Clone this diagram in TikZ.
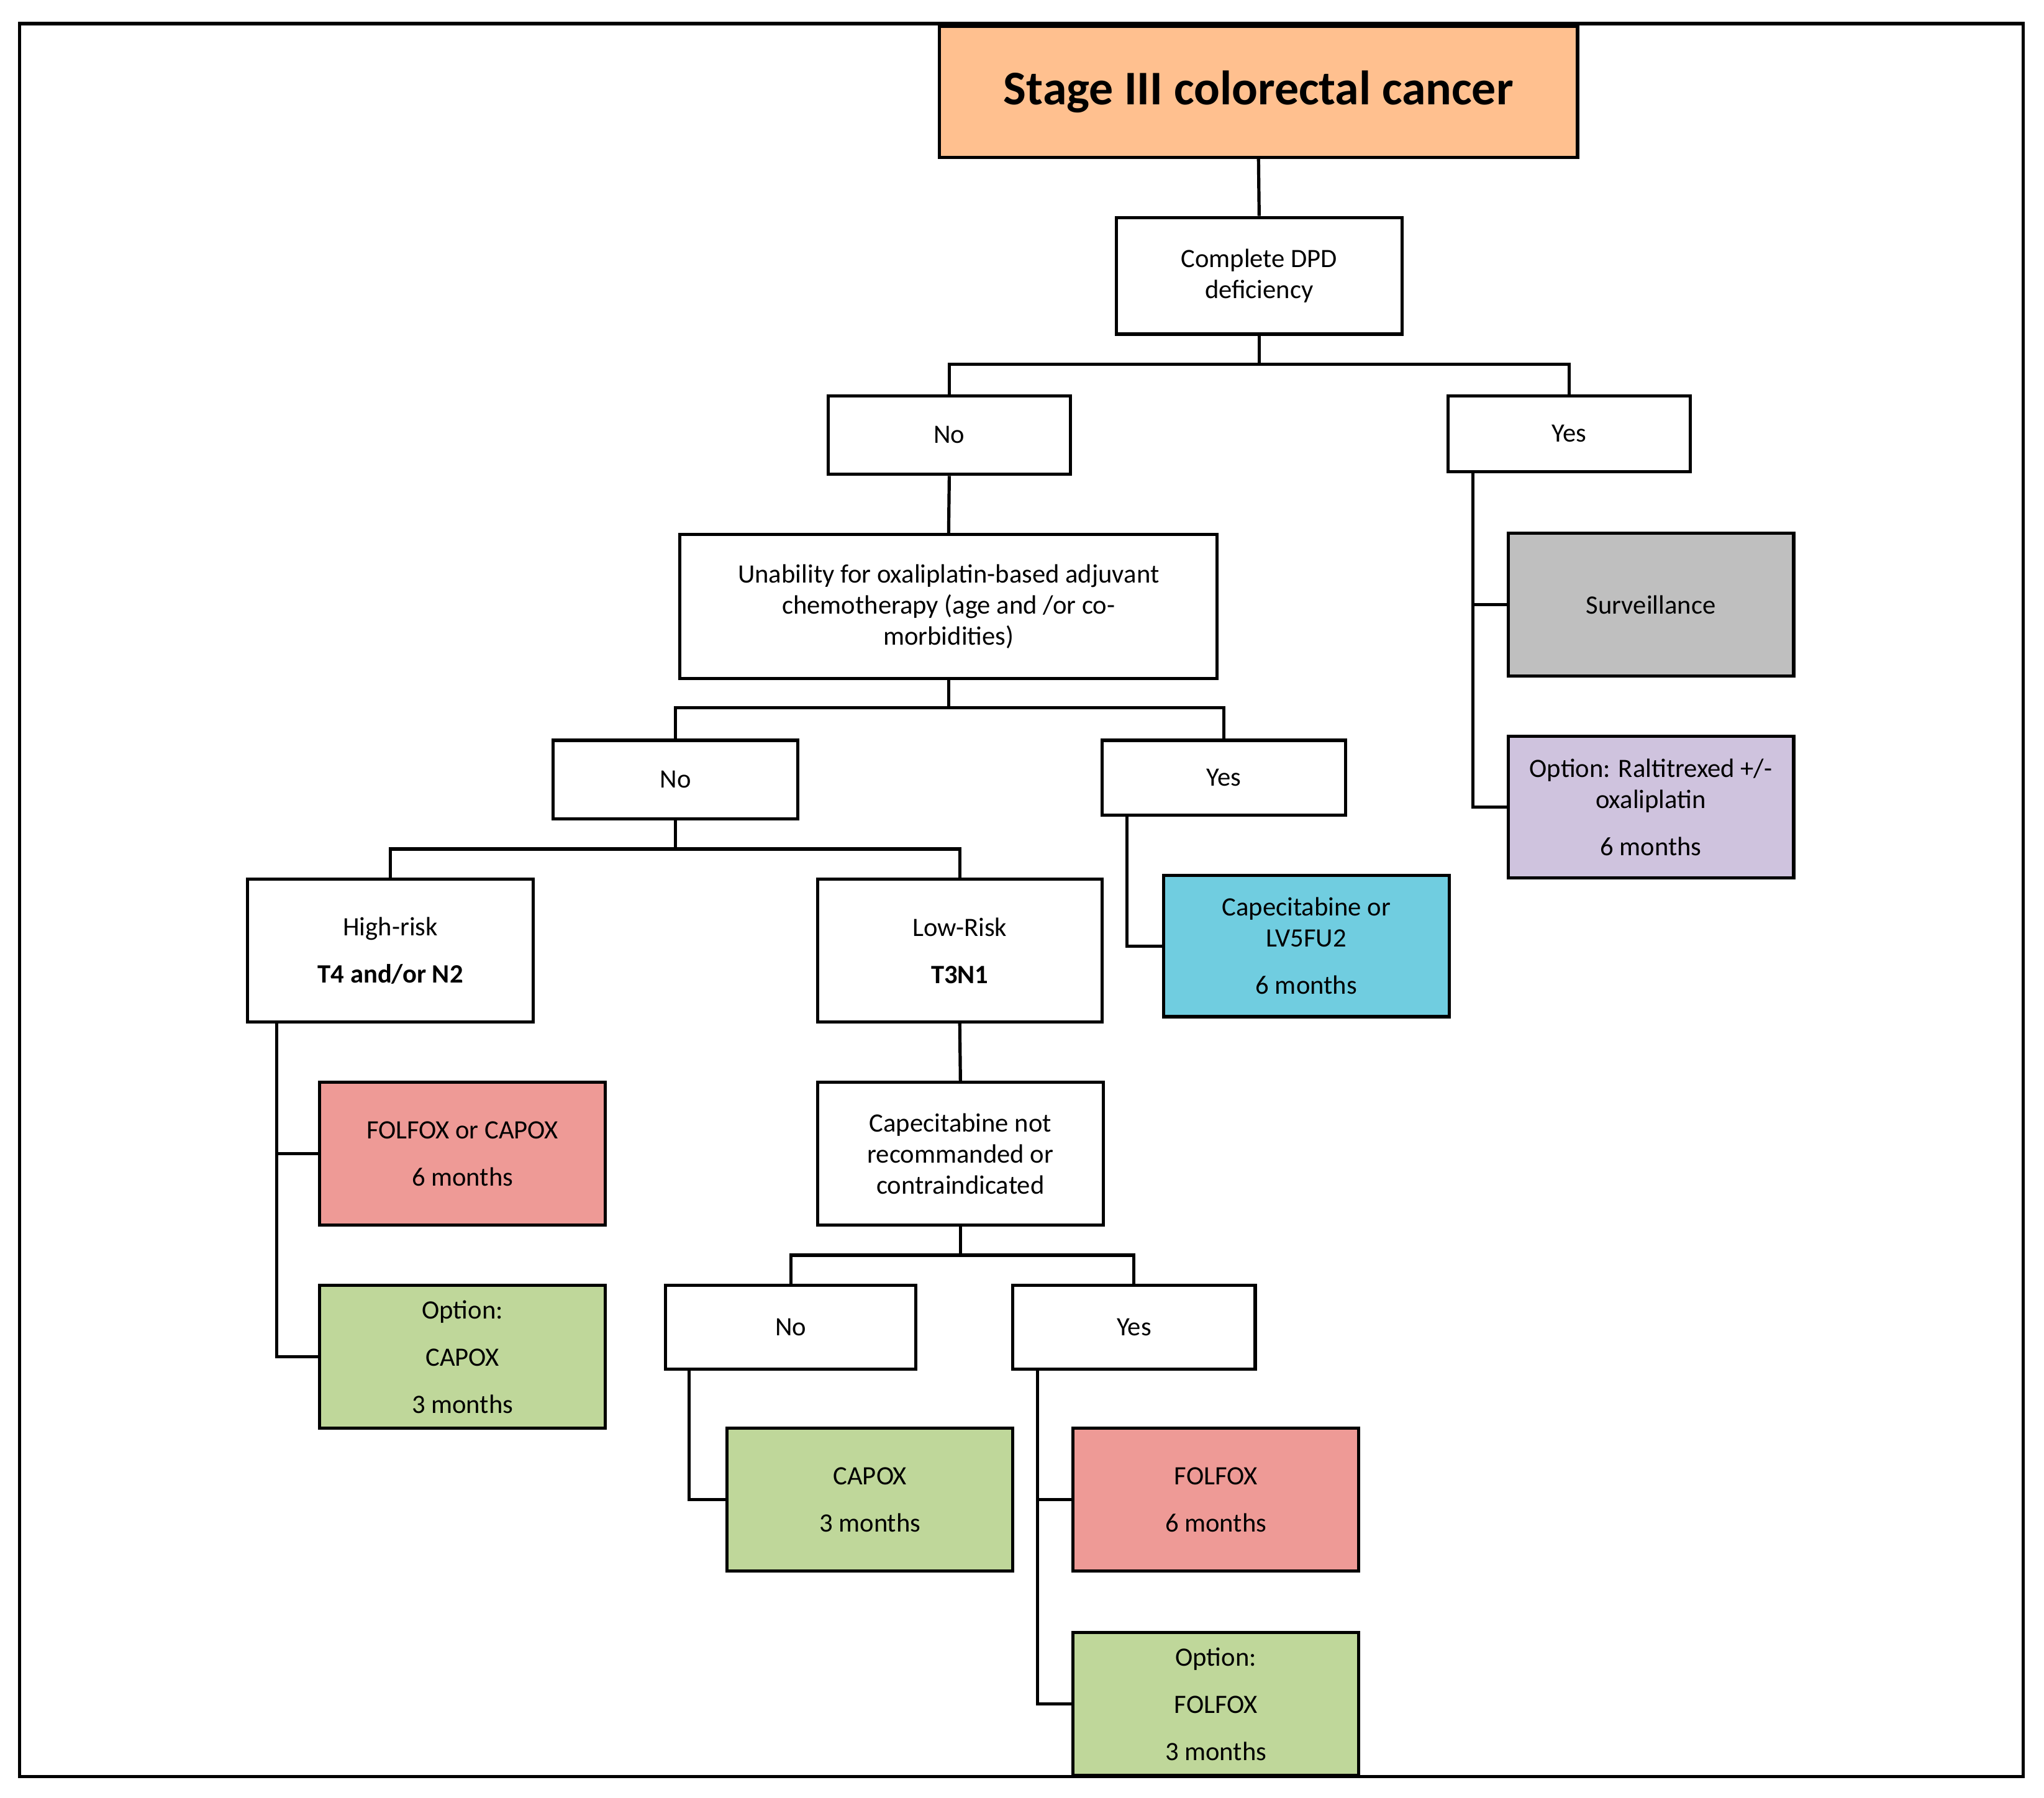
\documentclass[tikz,border=0pt]{standalone}
\usepackage{fontspec}
\setmainfont{Carlito}
\begin{document}
\begin{tikzpicture}[x=0.02cm,y=-0.02cm,
  line width=1.4pt,
  box/.style={draw,line width=1.4pt,align=center,font=\fontsize{11.5}{13.5}\selectfont,inner sep=0pt}]
\useasboundingbox (0,0) rectangle (1560,1372);
\draw (15,18) rectangle (1544,1356);
\newcommand{\bx}[7]{\node[box,fill=#6,minimum width={(#4-#2)*0.02cm},minimum height={(#5-#3)*0.02cm}] (#1) at ({(#2+#4)/2},{(#3+#5)/2}) {#7};}
\definecolor{org}{HTML}{FFC08F}
\definecolor{gry}{HTML}{BFBFBF}
\definecolor{lil}{HTML}{CFC3DE}
\definecolor{cya}{HTML}{70CDE0}
\definecolor{red}{HTML}{EE9A96}
\definecolor{grn}{HTML}{BFD79A}
\bx{title}{717}{20}{1204}{120}{org}{\fontsize{21}{24}\selectfont\bfseries Stage III colorectal cancer}
\bx{dpd}{852}{166}{1070}{255}{white}{Complete DPD\\deficiency}
\bx{no1}{632}{302}{817}{362}{white}{No}
\bx{yes1}{1105}{302}{1290}{360}{white}{Yes}
\bx{un}{519}{408}{929}{518}{white}{Unability for oxaliplatin-based adjuvant\\chemotherapy (age and /or co-\\morbidities)}
\bx{no2}{422}{565}{609}{625}{white}{No}
\bx{yes2}{841}{565}{1027}{622}{white}{Yes}
\bx{hr}{189}{671}{407}{780}{white}{High-risk\\[7pt]\textbf{T4 and/or N2}}
\bx{lr}{624}{671}{841}{780}{white}{Low-Risk\\[7pt]\textbf{T3N1}}
\bx{cap}{888}{668}{1106}{776}{cya}{Capecitabine or\\LV5FU2\\[7pt]6 months}
\bx{surv}{1151}{407}{1369}{516}{gry}{Surveillance}
\bx{ralt}{1151}{562}{1369}{670}{lil}{Option: Raltitrexed +/-\\oxaliplatin\\[7pt]6 months}
\bx{fc}{244}{826}{462}{935}{red}{FOLFOX or CAPOX\\[7pt]6 months}
\bx{oc}{244}{981}{462}{1090}{grn}{Option:\\[7pt]CAPOX\\[7pt]3 months}
\bx{cn}{624}{826}{842}{935}{white}{Capecitabine not\\recommanded or\\contraindicated}
\bx{no3}{508}{981}{699}{1045}{white}{No}
\bx{yes3}{773}{981}{958}{1045}{white}{Yes}
\bx{capox}{555}{1090}{773}{1199}{grn}{CAPOX\\[7pt]3 months}
\bx{ff}{819}{1090}{1037}{1199}{red}{FOLFOX\\[7pt]6 months}
\bx{of}{819}{1246}{1037}{1355}{grn}{Option:\\[7pt]FOLFOX\\[7pt]3 months}
\draw (title.south) -- (dpd.north);
\draw (dpd.south) -- (dpd.south |- 0,278) -| (no1.north);
\draw (dpd.south |- 0,278) -| (yes1.north);
\draw (no1.south) -- (un.north);
\draw (un.south) -- (un.south |- 0,540) -| (no2.north);
\draw (un.south |- 0,540) -| (yes2.north |- 0,565);
\draw (no2.south) -- (no2.south |- 0,648) -| (hr.north);
\draw (no2.south |- 0,648) -| (lr.north);
\draw (yes2.south -| 860,0) |- (cap.west);
\draw (yes1.south -| 1124,0) |- (ralt.west);
\draw (surv.west -| 1124,0) -- (surv.west);
\draw (hr.south -| 211,0) |- (oc.west);
\draw (fc.west -| 211,0) -- (fc.west);
\draw (lr.south) -- (cn.north);
\draw (cn.south) -- (cn.south |- 0,958) -| (no3.north);
\draw (cn.south |- 0,958) -| (yes3.north);
\draw (no3.south -| 526,0) |- (capox.west);
\draw (yes3.south -| 792,0) |- (of.west);
\draw (ff.west -| 792,0) -- (ff.west);
\end{tikzpicture}
\end{document}
